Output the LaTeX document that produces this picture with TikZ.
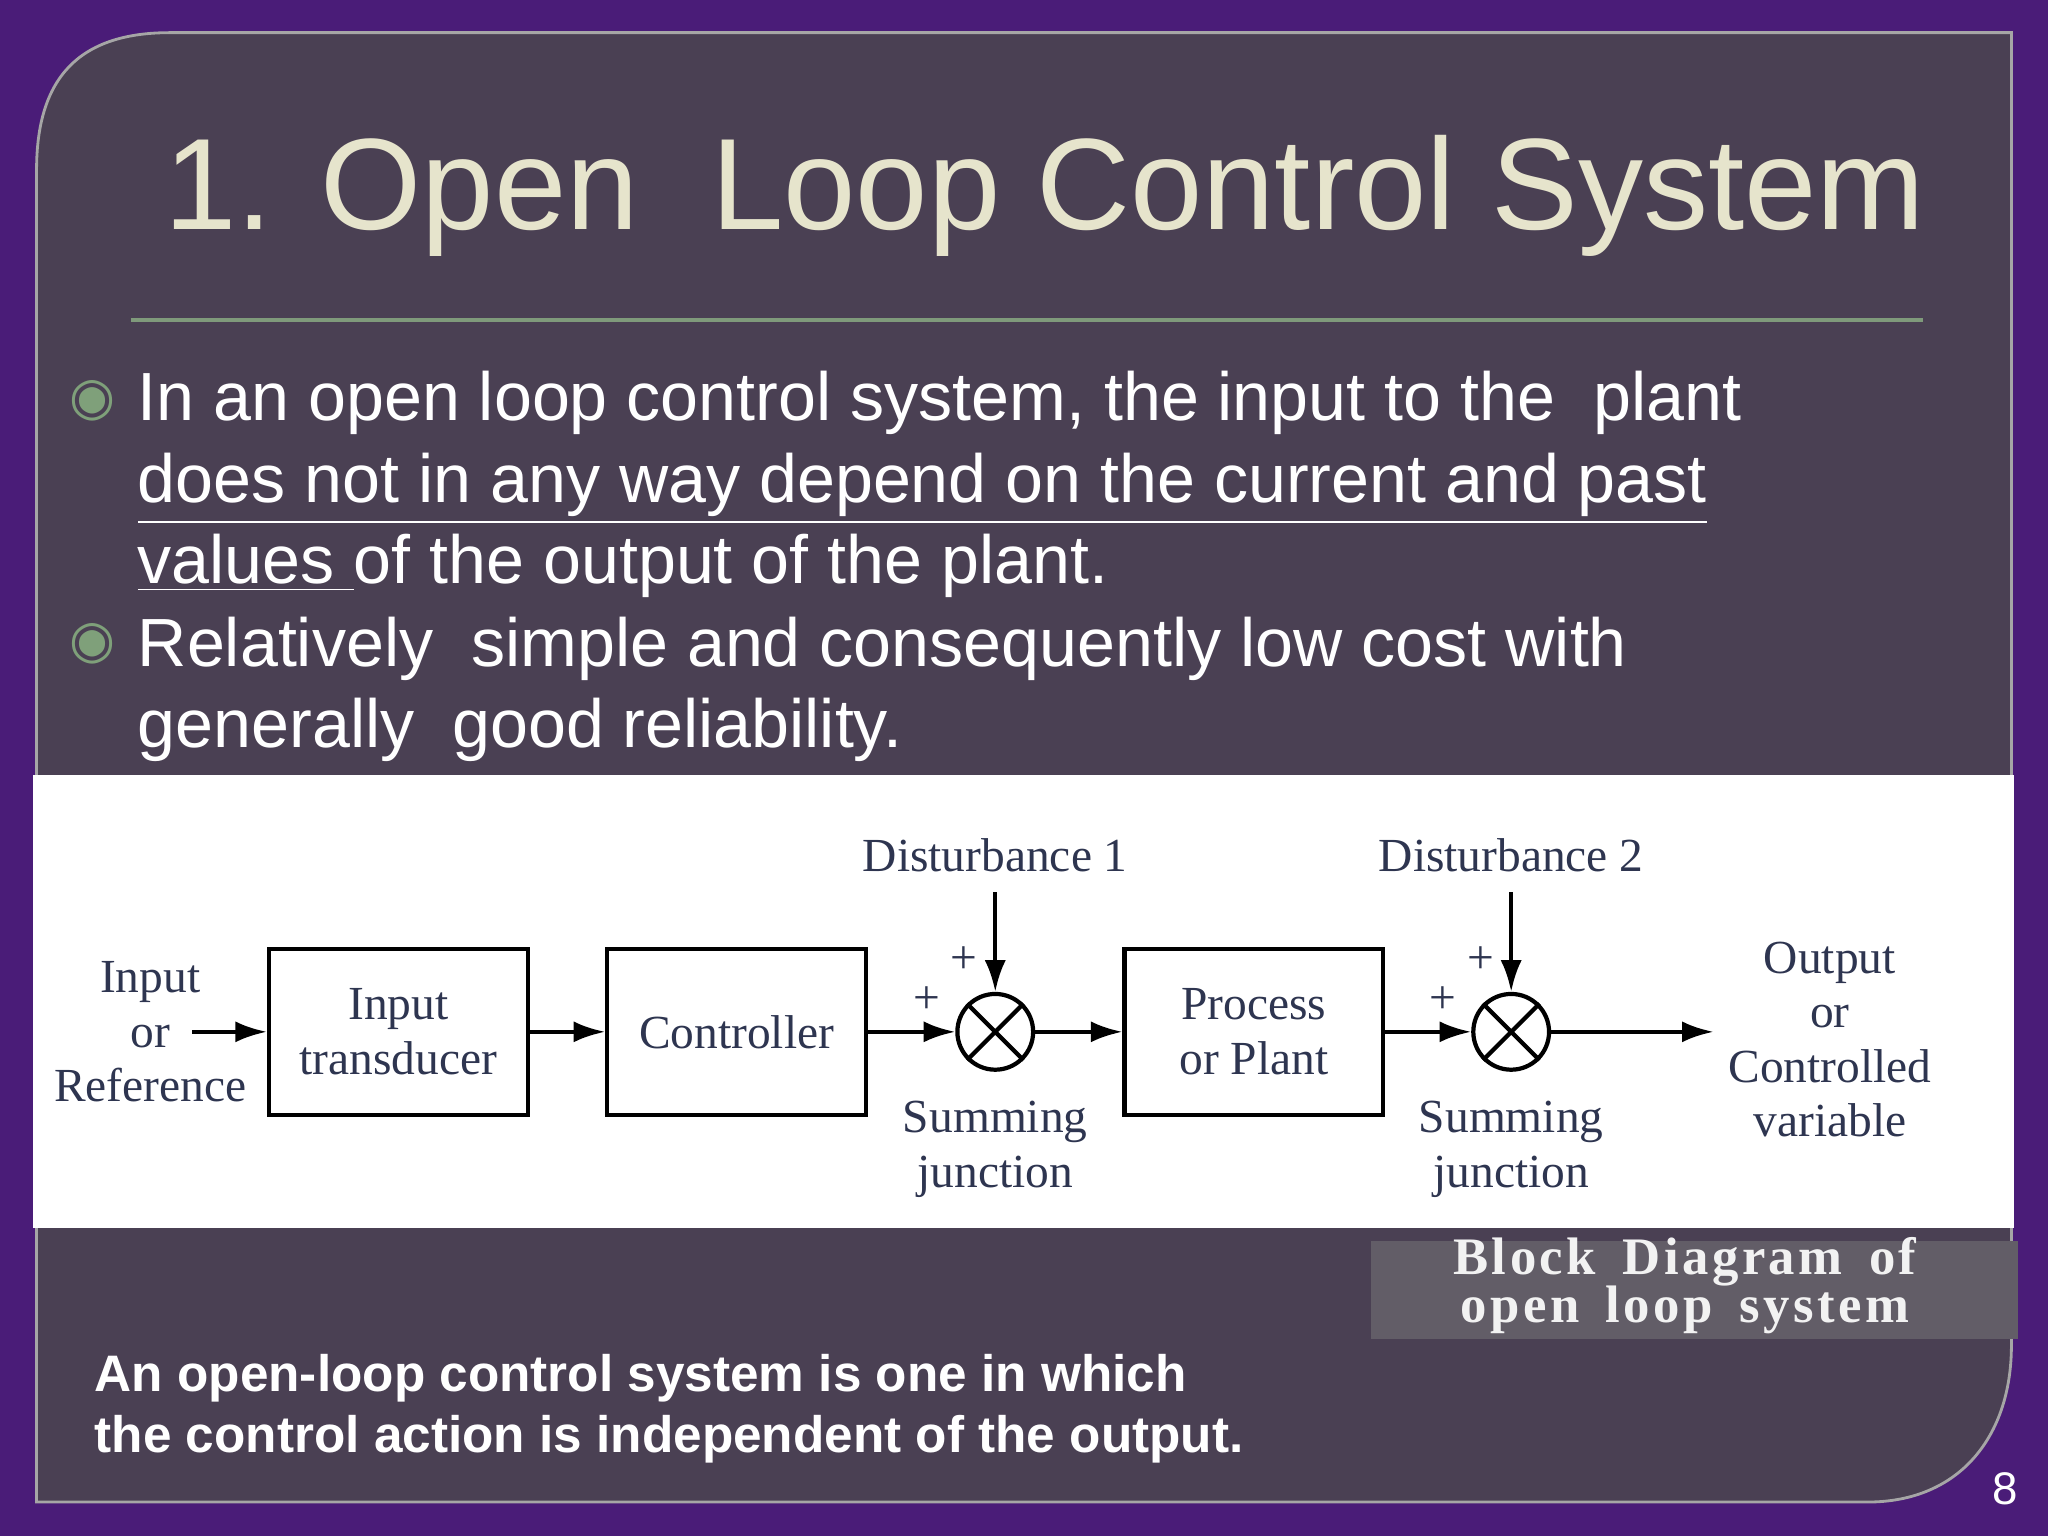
\documentclass[tikz,border=0pt]{standalone}
\usepackage{fontspec}
\setmainfont{Liberation Sans}
\newfontfamily\tms{Liberation Serif}
\newfontfamily\dvs{DejaVu Sans}
\usetikzlibrary{arrows.meta}
\definecolor{bgp}{HTML}{4A1C78}
\definecolor{panel}{HTML}{4A4053}
\definecolor{cream}{HTML}{E6E4CC}
\definecolor{grn}{HTML}{7FA07A}
\definecolor{dtxt}{HTML}{2E3550}
\tikzset{
  blk/.style={draw=black, line width=1.2pt, minimum width=198\pxu, minimum height=127\pxu, align=center, font=\tms\fontsize{13.5}{15.5}\selectfont, text=dtxt},
  lbl/.style={align=center, font=\tms\fontsize{13.5}{15.5}\selectfont, text=dtxt},
  sj/.style={draw=black, line width=1.2pt, circle, minimum size=58\pxu, inner sep=0pt},
  arr/.style={-{Latex[length=9pt,width=6pt]}, line width=1.2pt},
  bul/.style={anchor=base west, inner sep=0pt, font=\fontsize{19.4}{23}\selectfont, text=white},
  bdl/.style={text=white!90!gray, font=\tms\bfseries\fontsize{15}{17}\selectfont},
}
\newlength{\pxu}\setlength{\pxu}{0.013061cm}
\begin{document}
\begin{tikzpicture}[x=0.013061cm,y=-0.013061cm]
\useasboundingbox (0,0) rectangle (1568,1176);
\fill[bgp] (0,0) rectangle (1568,1176);
\fill[panel, draw=gray!70!white, line width=0.8pt] (28,130) .. controls (28,60) and (60,25) .. (130,25) -- (1540,25) -- (1540,1030) .. controls (1540,1100) and (1500,1150) .. (1430,1150) -- (28,1150) -- cycle;
\node[text=cream, font=\fontsize{37}{41}\selectfont] (title) at (800,150) {1. Open\ \ Loop Control System};
\draw[grn!80!gray, line width=1pt] (100,245) -- (1472,245);
\node[text=grn, font=\dvs\fontsize{15}{15}\selectfont] (b1) at (71,307) {◉};
\node[text=grn, font=\dvs\fontsize{15}{15}\selectfont] (b2) at (71,493) {◉};
\node[bul] (t1) at (105,322) {In an open loop control system, the input to the\ \ plant};
\node[bul] (t2) at (105,385) {\underline{does not in any way depend on the current and past}};
\node[bul] (t3) at (105,447) {\underline{values }of the output of the plant.};
\node[bul] (t4) at (105,510) {Relatively\ \ simple and consequently low cost with};
\node[bul] (t5) at (105,572) {generally\ \ good reliability.};
\fill[white] (25,593) rectangle (1542,940);
\node[lbl] (in) at (115,790) {Input\\or\\Reference};
\node[blk] (it) at (305,790) {Input\\transducer};
\node[blk] (ct) at (564,790) {Controller};
\node[sj] (s1) at (762,790) {};
\draw[line width=1.2pt] (s1.45) -- (s1.225) (s1.135) -- (s1.315);
\node[blk] (pp) at (960,790) {Process\\or Plant};
\node[sj] (s2) at (1157,790) {};
\draw[line width=1.2pt] (s2.45) -- (s2.225) (s2.135) -- (s2.315);
\node[lbl] (out) at (1401,796) {Output\\or\\Controlled\\variable};
\node[lbl] (d1) at (762,655) {Disturbance 1};
\node[lbl] (d2) at (1157,655) {Disturbance 2};
\node[lbl] (j1) at (762,880) {Summing\\junction};
\node[lbl] (j2) at (1157,880) {Summing\\junction};
\node[lbl] (p1) at (738,735) {+};
\node[lbl] (p2) at (710,766) {+};
\node[lbl] (p3) at (1134,735) {+};
\node[lbl] (p4) at (1105,766) {+};
\coordinate (ie) at (147,790);
\coordinate (oe) at (1312,790);
\coordinate (d1s) at (762,683);
\coordinate (d2s) at (1157,683);
\draw[arr] (ie) -- (it.west);
\draw[arr] (it.east) -- (ct.west);
\draw[arr] (ct.east) -- (s1.west);
\draw[arr] (s1.east) -- (pp.west);
\draw[arr] (pp.east) -- (s2.west);
\draw[arr] (s2.east) -- (oe);
\draw[arr] (d1s) -- (s1.north);
\draw[arr] (d2s) -- (s2.north);
\fill[gray!45!panel] (1050,950) rectangle (1545,1025);
\node[bdl] (bd1) at (1290,966) {B\kern1pt l\kern1pt o\kern1pt c\kern1pt k\ \ D\kern1pt i\kern1pt a\kern1pt g\kern1pt r\kern1pt a\kern1pt m\ \ o\kern1pt f};
\node[bdl] (bd2) at (1290,1003) {o\kern1pt p\kern1pt e\kern1pt n\ \ l\kern1pt o\kern1pt o\kern1pt p\ \ s\kern1pt y\kern1pt s\kern1pt t\kern1pt e\kern1pt m};
\node[anchor=base west, inner sep=0pt, text=white, font=\bfseries\fontsize{14.6}{17.5}\selectfont] (bt1) at (72,1065) {An open-loop control system is one in which};
\node[anchor=base west, inner sep=0pt, text=white, font=\bfseries\fontsize{14.6}{17.5}\selectfont] (bt2) at (72,1112) {the control action is independent of the output.};
\node[text=white, font=\fontsize{13}{14}\selectfont] (pg) at (1535,1140) {8};
\end{tikzpicture}
\end{document}
